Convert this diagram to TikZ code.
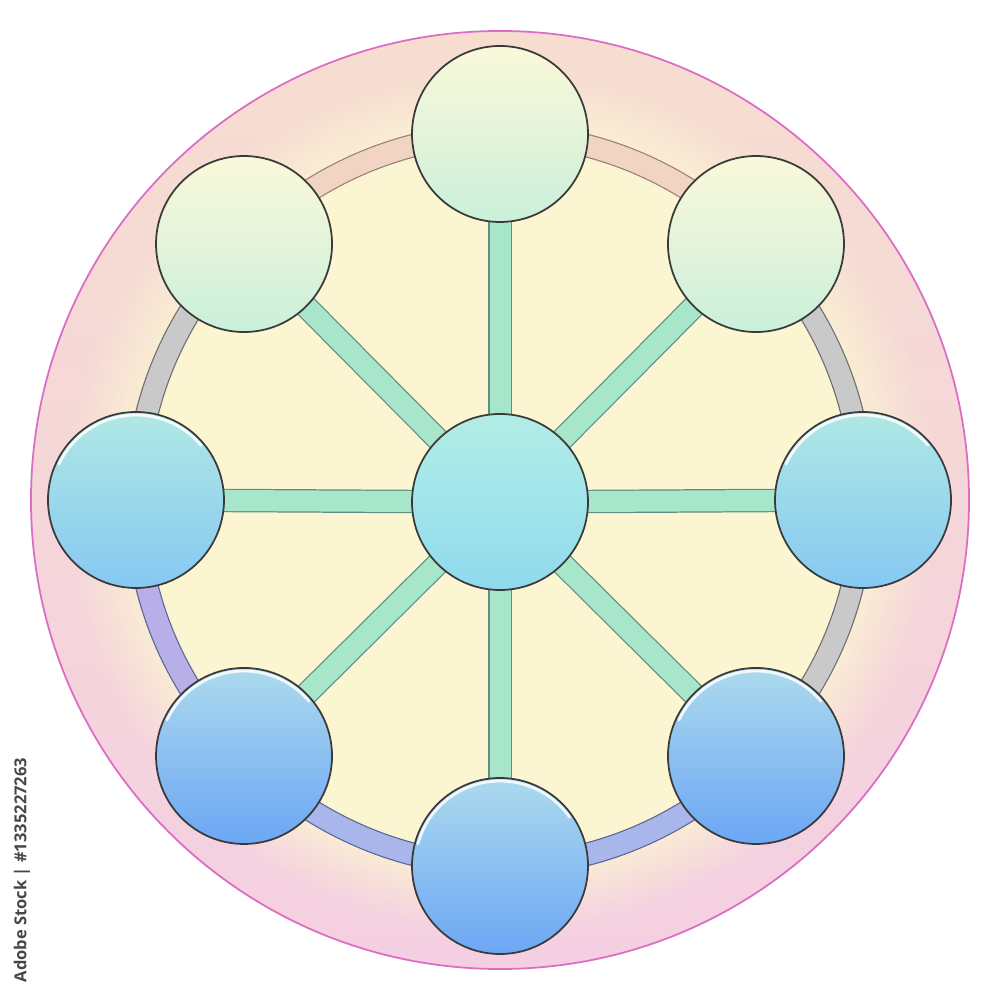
\documentclass[tikz,border=0pt]{standalone}
\usepackage{fontspec}
\newfontfamily\stockfont{Open Sans}
\usetikzlibrary{fadings}
\usepackage{xcolor}

\definecolor{discpeach}{HTML}{F6DDD0}
\definecolor{discpink}{HTML}{F4CFE2}
\definecolor{discline}{HTML}{DC6CC4}
\definecolor{inneryellow}{HTML}{FCF5D2}
\definecolor{nodeline}{HTML}{3A3A3A}
\definecolor{paletop}{HTML}{FBF8DA}
\definecolor{palebot}{HTML}{CAF0DA}
\definecolor{aquatop}{HTML}{B0E8E4}
\definecolor{aquabot}{HTML}{86C8F2}
\definecolor{bluetop}{HTML}{ACDAEE}
\definecolor{bluebot}{HTML}{6CA6F4}
\definecolor{hubtop}{HTML}{B2EEE6}
\definecolor{hubbot}{HTML}{90DAEE}
\definecolor{spokefill}{HTML}{A8E6CC}
\definecolor{spokeline}{HTML}{5E8E80}
\definecolor{peachfill}{HTML}{F2D4C2}
\definecolor{peachline}{HTML}{9A8078}
\definecolor{grayfill}{HTML}{C9C9C9}
\definecolor{grayline}{HTML}{6E6E6E}
\definecolor{periwinkle}{HTML}{A8B6EC}
\definecolor{lavender}{HTML}{B8AEE8}
\definecolor{blueline}{HTML}{5A6898}

\pgfdeclarelayer{back}
\pgfdeclarelayer{links}
\pgfsetlayers{back,links,main}

\begin{document}
\begin{tikzpicture}[
  hub/.style={circle, minimum size=1.76cm, inner sep=0pt, draw=nodeline, line width=0.5pt},
  pale/.style={hub, top color=paletop, bottom color=palebot},
  aqua/.style={hub, top color=aquatop, bottom color=aquabot},
  sky/.style={hub, top color=bluetop, bottom color=bluebot},
  centre/.style={hub, top color=hubtop, bottom color=hubbot},
  spoke/.style={draw=spokeline, double=spokefill, line width=0.35pt, double distance=0.21cm},
  rim/.style={line width=0.35pt, double distance=0.21cm, bend left=22.5, looseness=0.89},
  shine/.style={white, line width=0.8pt, line cap=round, opacity=0.85}
]

\useasboundingbox (-5,-5) rectangle (5,5);

% disc
\begin{pgfonlayer}{back}
\shade[top color=discpeach, bottom color=discpink] (0,0) circle (4.69);
\fill[inneryellow, path fading=circle with fuzzy edge 20 percent] (0,0) circle (4.35);
\draw[discline, line width=0.5pt] (0,0) circle (4.69);
\end{pgfonlayer}

% nodes
\node[centre] (hub) at (0,-0.02) {};

\node[pale] (n) at (90:3.66) {};
\node[pale] (ne) at (45:3.62) {};
\node[pale] (nw) at (135:3.62) {};

\node[aqua] (e) at (0:3.63) {};
\node[aqua] (w) at (180:3.64) {};

\node[sky] (se) at (-45:3.62) {};
\node[sky] (sw) at (-135:3.62) {};
\node[sky] (s) at (-90:3.66) {};

% highlights
\draw[shine] (e.center) ++(155:0.85) arc[start angle=155, end angle=40, radius=0.85];
\draw[shine] (w.center) ++(155:0.85) arc[start angle=155, end angle=40, radius=0.85];
\draw[shine] (se.center) ++(155:0.85) arc[start angle=155, end angle=40, radius=0.85];
\draw[shine] (sw.center) ++(155:0.85) arc[start angle=155, end angle=40, radius=0.85];
\draw[shine] (s.center) ++(165:0.85) arc[start angle=165, end angle=35, radius=0.85];

% links
\begin{pgfonlayer}{links}
\draw[spoke] (hub.center) -- (n.center);
\draw[spoke] (hub.center) -- (ne.center);
\draw[spoke] (hub.center) -- (e.center);
\draw[spoke] (hub.center) -- (se.center);
\draw[spoke] (hub.center) -- (s.center);
\draw[spoke] (hub.center) -- (sw.center);
\draw[spoke] (hub.center) -- (w.center);
\draw[spoke] (hub.center) -- (nw.center);

\draw[draw=peachline, double=peachfill, rim] (nw.center) to (n.center);
\draw[draw=peachline, double=peachfill, rim] (n.center) to (ne.center);
\draw[draw=grayline, double=grayfill, rim] (ne.center) to (e.center);
\draw[draw=grayline, double=grayfill, rim] (e.center) to (se.center);
\draw[draw=blueline, double=periwinkle, rim] (se.center) to (s.center);
\draw[draw=blueline, double=periwinkle, rim] (s.center) to (sw.center);
\draw[draw=blueline, double=lavender, rim] (sw.center) to (w.center);
\draw[draw=grayline, double=grayfill, rim] (w.center) to (nw.center);
\end{pgfonlayer}

\node[rotate=90, text=black!72] (stock) at (-4.78,-3.70) {\stockfont\bfseries\fontsize{4.7}{6}\selectfont Adobe Stock | \#1335227263};

\end{tikzpicture}
\end{document}
